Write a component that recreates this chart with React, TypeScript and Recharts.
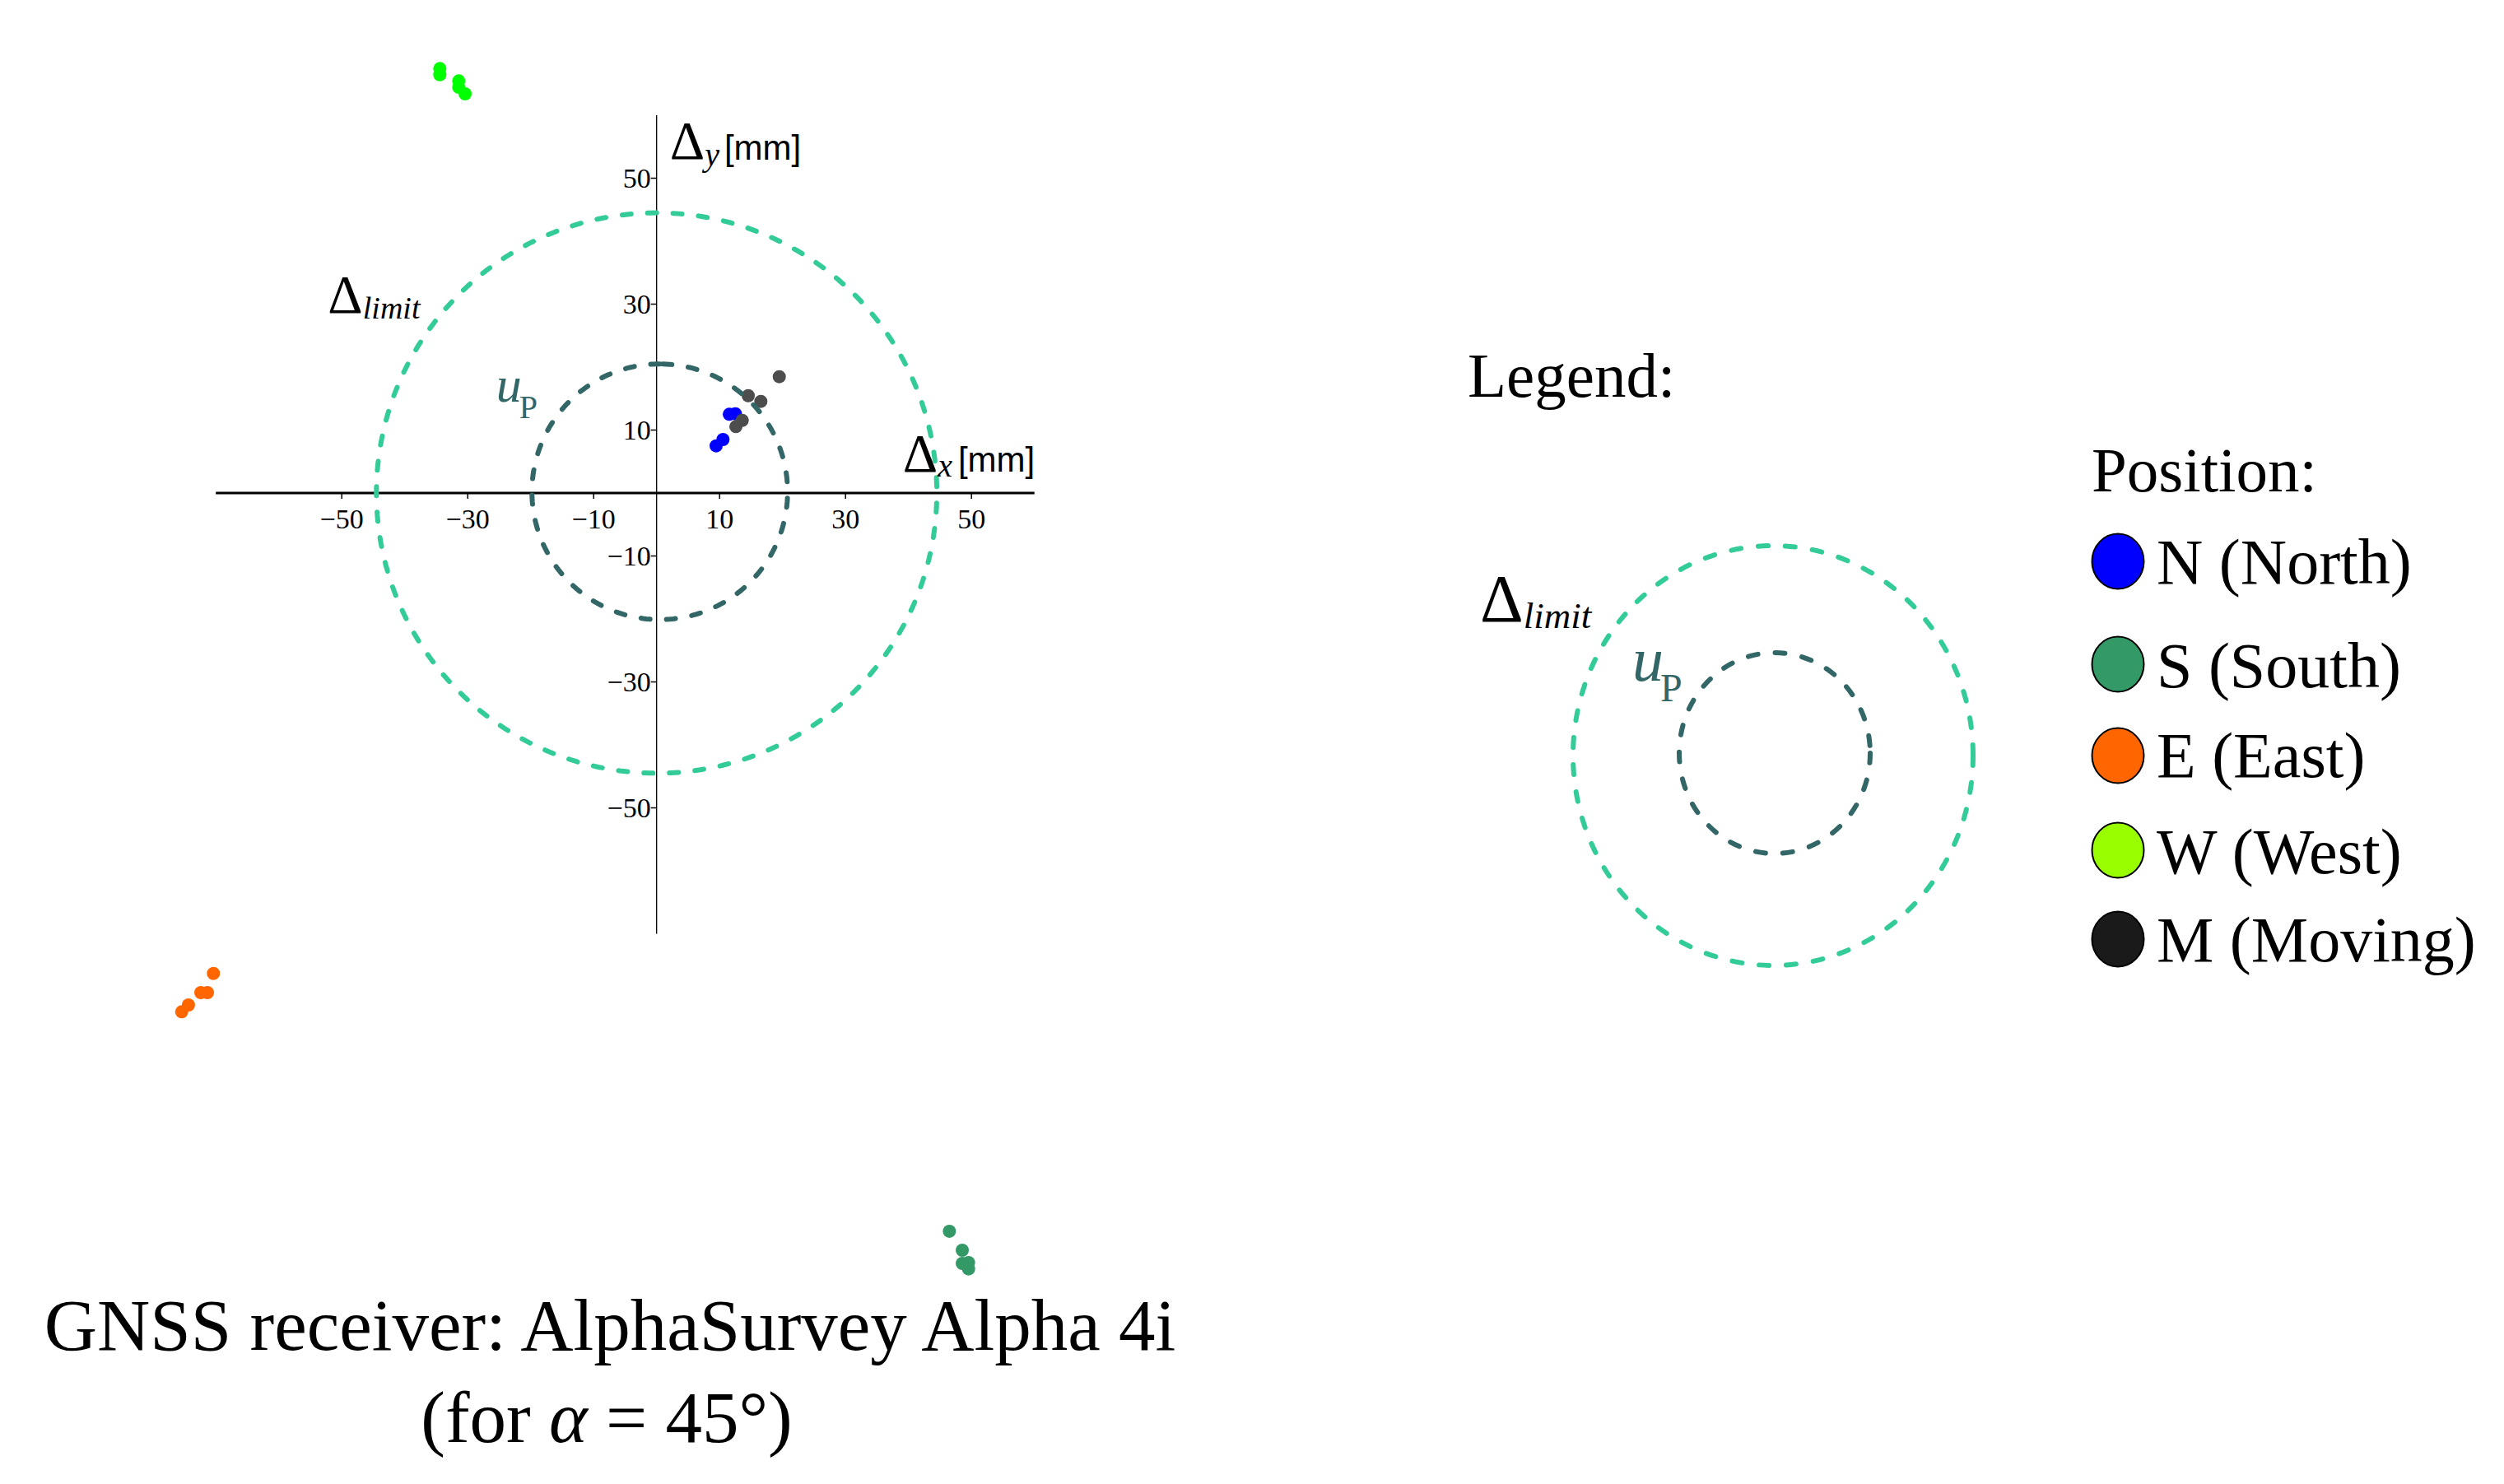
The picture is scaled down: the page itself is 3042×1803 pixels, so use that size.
import React from 'react';
import { ScatterChart, Scatter, XAxis, YAxis, ReferenceLine, ReferenceDot, Legend } from 'recharts';

// deviations [mm]
const northX = [9.45, 10.54, 11.54, 12.5];
const northY = [7.49, 8.5, 12.51, 12.59];
const southX = [46.49, 48.54, 48.54, 49.54, 49.54];
const southY = [-117.25, -120.26, -122.35, -122.22, -123.23];
const eastX = [-70.38, -72.38, -71.33, -74.35, -75.42];
const eastY = [-76.3, -79.35, -79.35, -81.31, -82.39];
const westX = [-34.43, -34.43, -31.42, -31.42, -30.42];
const westY = [67.41, 66.44, 65.45, 64.44, 63.4];
const movingX = [19.48, 14.55, 16.55, 13.59, 12.59];
const movingY = [18.47, 15.46, 14.55, 11.54, 10.55];

const xTicks = [-50, -30, -10, 10, 30, 50];
const yTicks = [50, 30, 10, -10, -30, -50];
const axisMin = -70;
const axisMax = 60;

const limitCenter = [0, 0];
const limitRadius = 44.5;
const upCenter = [0.5, 0.2];
const upRadius = 20.3;

const W = 3042;
const H = 1803;
const SERIF = "'Liberation Serif', 'Times New Roman', serif";
const SANS = "'Liberation Sans', Arial, sans-serif";
const LIMIT_COLOR = '#33cc99';
const UP_COLOR = '#336666';

const toPoints = (xs: number[], ys: number[]) => xs.map((x, i) => ({ x, y: ys[i] }));

// outline of a circle of given centre/radius (reference shape, not data)
const circle = (c: number[], r: number) =>
  Array.from({ length: 241 }, (_, i) => {
    const t = (i / 240) * 2 * Math.PI + Math.PI / 2;
    return { x: c[0] + r * Math.cos(t), y: c[1] + r * Math.sin(t) };
  });

const series = [
  { name: 'N (North)', data: toPoints(northX, northY), color: '#0000ff', legendColor: '#0000ff' },
  { name: 'S (South)', data: toPoints(southX, southY), color: '#339966', legendColor: '#339966' },
  { name: 'E (East)', data: toPoints(eastX, eastY), color: '#ff6600', legendColor: '#ff6600' },
  { name: 'W (West)', data: toPoints(westX, westY), color: '#00ff00', legendColor: '#99ff00' },
  { name: 'M (Moving)', data: toPoints(movingX, movingY), color: '#4d4d4d', legendColor: '#1a1a1a' },
];

const fmt = (v: number) => (v < 0 ? `\u2212${Math.abs(v)}` : `${v}`);

function LegendBox() {
  const rowsText = [709, 835, 944, 1061, 1168];
  const rowsDot = [682, 807, 918, 1033, 1141];
  return (
    <svg width={W} height={H} style={{ position: 'absolute', left: 0, top: 0 }}>
      <text x={1783} y={482} fontFamily={SERIF} fontSize={77}>Legend:</text>
      <ellipse cx={2154} cy={918} rx={243} ry={255} fill="none" stroke={LIMIT_COLOR}
        strokeWidth={6} strokeDasharray="12 21" strokeLinecap="round" />
      <ellipse cx={2156} cy={915} rx={116} ry={122} fill="none" stroke={UP_COLOR}
        strokeWidth={6} strokeDasharray="12 21" strokeLinecap="round" />
      <text x={1798} y={755} fontFamily={SERIF}>
        <tspan fontSize={82}>Δ</tspan>
        <tspan fontSize={45} fontStyle="italic" dy={8}>limit</tspan>
      </text>
      <text x={1983} y={827} fontFamily={SERIF} fill={UP_COLOR}>
        <tspan fontSize={76} fontStyle="italic">u</tspan>
        <tspan fontSize={48} dx={-4} dy={25}>P</tspan>
      </text>
      <text x={2541} y={597} fontFamily={SERIF} fontSize={77}>Position:</text>
      {series.map((s, i) => (
        <g key={s.name}>
          <ellipse cx={2573} cy={rowsDot[i]} rx={31.5} ry={33.5} fill={s.legendColor} stroke="#000" strokeWidth={2} />
          <text x={2620} y={rowsText[i]} fontFamily={SERIF} fontSize={78}>{s.name}</text>
        </g>
      ))}
    </svg>
  );
}

export default function App() {
  return (
    <div style={{ position: 'absolute', left: 0, top: 0, width: W, height: H, background: '#fff' }}>
      <ScatterChart width={W} height={H} margin={{ top: 25.25, right: 25.8, bottom: 56.5, left: 32.7 }}>
        <XAxis type="number" dataKey="x" domain={[-100, 290]} allowDataOverflow hide />
        <YAxis type="number" dataKey="y" domain={[-150, 75]} allowDataOverflow hide />

        <ReferenceLine segment={[{ x: axisMin, y: 0 }, { x: axisMax, y: 0 }]} stroke="#000" strokeWidth={3} />
        <ReferenceLine segment={[{ x: 0, y: axisMin }, { x: 0, y: axisMax }]} stroke="#000" strokeWidth={1.3} />

        {xTicks.map((t) => (
          <ReferenceDot key={`xt${t}`} x={t} y={0} r={0} shape={(p: any) => (
            <g>
              <line x1={p.cx} y1={p.cy} x2={p.cx} y2={p.cy + 7} stroke="#000" strokeWidth={1.5} />
              <text x={p.cx} y={p.cy + 43} textAnchor="middle" fontFamily={SERIF} fontSize={34}>{fmt(t)}</text>
            </g>
          )} />
        ))}
        {yTicks.map((t) => (
          <ReferenceDot key={`yt${t}`} x={0} y={t} r={0} shape={(p: any) => (
            <g>
              <line x1={p.cx - 7} y1={p.cy} x2={p.cx} y2={p.cy} stroke="#000" strokeWidth={1.5} />
              <text x={p.cx - 7} y={p.cy + 11} textAnchor="end" fontFamily={SERIF} fontSize={34}>{fmt(t)}</text>
            </g>
          )} />
        ))}

        {series.map((s) => (
          <Scatter key={s.name} name={s.name} data={s.data} isAnimationActive={false}
            shape={(p: any) => <circle cx={p.cx} cy={p.cy} r={8} fill={s.color} />} />
        ))}

        <Scatter name="limit" data={circle(limitCenter, limitRadius)} legendType="none" isAnimationActive={false}
          line={{ stroke: LIMIT_COLOR, strokeWidth: 6, strokeDasharray: '11 20', strokeLinecap: 'round' }}
          shape={() => <g />} />
        <Scatter name="uP" data={circle(upCenter, upRadius)} legendType="none" isAnimationActive={false}
          line={{ stroke: UP_COLOR, strokeWidth: 6, strokeDasharray: '11 20', strokeLinecap: 'round' }}
          shape={() => <g />} />

        {/* axis titles */}
        <ReferenceDot x={0} y={axisMax} r={0} shape={(p: any) => (
          <text x={p.cx + 16} y={p.cy + 53} fontFamily={SERIF}>
            <tspan fontSize={66}>Δ</tspan>
            <tspan fontSize={40} fontStyle="italic" dy={8}>y</tspan>
            <tspan fontSize={42} fontFamily={SANS} dx={6} dy={-7}>[mm]</tspan>
          </text>
        )} />
        <ReferenceDot x={axisMax} y={0} r={0} shape={(p: any) => (
          <text x={p.cx - 160} y={p.cy - 26} fontFamily={SERIF}>
            <tspan fontSize={66}>Δ</tspan>
            <tspan fontSize={40} fontStyle="italic" dy={6}>x</tspan>
            <tspan fontSize={42} fontFamily={SANS} dx={7} dy={-6}>[mm]</tspan>
          </text>
        )} />
        <ReferenceDot x={-52.2} y={28.6} r={0} shape={(p: any) => (
          <text x={p.cx} y={p.cy} fontFamily={SERIF}>
            <tspan fontSize={66}>Δ</tspan>
            <tspan fontSize={38} fontStyle="italic" dy={7}>limit</tspan>
          </text>
        )} />
        <ReferenceDot x={-25.5} y={14.5} r={0} shape={(p: any) => (
          <text x={p.cx} y={p.cy} fontFamily={SERIF} fill={UP_COLOR}>
            <tspan fontSize={62} fontStyle="italic">u</tspan>
            <tspan fontSize={40} dx={-3} dy={20}>P</tspan>
          </text>
        )} />

        <Legend layout="vertical" align="center" verticalAlign="middle"
          wrapperStyle={{ left: 0, top: 0, width: W, height: H, pointerEvents: 'none' }}
          content={() => <LegendBox />} />
      </ScatterChart>

      <svg width={W} height={H} style={{ position: 'absolute', left: 0, top: 0, pointerEvents: 'none' }}>
        <text x={741} y={1640} textAnchor="middle" fontFamily={SERIF} fontSize={89}>
          GNSS receiver: AlphaSurvey Alpha 4i
        </text>
        <text x={737} y={1752} textAnchor="middle" fontFamily={SERIF} fontSize={89}>
          (for <tspan fontStyle="italic">α</tspan> = 45°)
        </text>
      </svg>
    </div>
  );
}
